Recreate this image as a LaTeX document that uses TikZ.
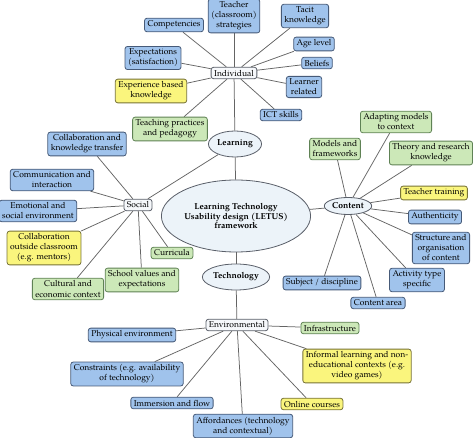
\documentclass[tikz,border=0pt]{standalone}
\usepackage{fontspec}
\setmainfont{TeX Gyre Pagella}
\usetikzlibrary{shapes.geometric,backgrounds}
\definecolor{bfill}{RGB}{160,195,236}
\definecolor{bdraw}{RGB}{70,90,120}
\definecolor{gfill}{RGB}{204,232,184}
\definecolor{gdraw}{RGB}{95,130,85}
\definecolor{yfill}{RGB}{250,245,125}
\definecolor{ydraw}{RGB}{120,115,55}
\definecolor{wfill}{RGB}{246,248,251}
\definecolor{wdraw}{RGB}{90,95,105}
\definecolor{efill}{RGB}{236,243,249}
\definecolor{edgecol}{RGB}{100,100,100}
\tikzset{
  leaf/.style={rounded corners=2.5pt, line width=0.8pt, align=center, inner xsep=3pt, inner ysep=2.6pt, font=\fontsize{8.5}{10}\selectfont},
  bleaf/.style={leaf, fill=bfill, draw=bdraw},
  gleaf/.style={leaf, fill=gfill, draw=gdraw},
  yleaf/.style={leaf, fill=yfill, draw=ydraw},
  hub/.style={leaf, fill=wfill, draw=wdraw},
  oval/.style={ellipse, fill=efill, draw=wdraw, line width=0.8pt, align=center, inner sep=1pt, font=\fontsize{8.6}{9.4}\selectfont\bfseries},
  link/.style={draw=edgecol, line width=0.75pt}
}
\begin{document}
\begin{tikzpicture}[x=1pt,y=-1pt]
\useasboundingbox (0,0) rectangle (474,438);
% hubs
\node[oval, minimum width=110pt, minimum height=72pt] (center) at (236,216) {Learning Technology\\Usability design (LETUS)\\framework};
\node[oval, minimum width=44pt, minimum height=26pt] (learning) at (235,144) {Learning};
\node[oval, minimum width=52pt, minimum height=26pt] (technology) at (236,277) {Technology};
\node[oval, minimum width=36pt, minimum height=17pt] (content) at (348,206) {Content};
\node[hub] (individual) at (234,73) {Individual};
\node[hub] (social) at (138,205) {Social};
\node[hub] (environmental) at (237,325) {Environmental};
% Individual leaves
\node[bleaf] (competencies) at (174,25) {Competencies};
\node[bleaf] (teacher) at (234,16) {Teacher\\(classroom)\\strategies};
\node[bleaf] (tacit) at (305,16) {Tacit\\knowledge};
\node[bleaf] (age) at (314,44) {Age level};
\node[bleaf] (beliefs) at (317,63) {Beliefs};
\node[bleaf] (learner) at (304,87) {Learner\\related};
\node[bleaf] (ict) at (281,115) {ICT skills};
\node[bleaf] (expect) at (153,58) {Expectations\\(satisfaction)};
\node[yleaf] (experience) at (151,91) {Experience based\\knowledge};
\node[gleaf] (teaching) at (170,129) {Teaching practices\\and pedagogy};
% Social leaves
\node[bleaf] (collab) at (87,144) {Collaboration and\\knowledge transfer};
\node[bleaf] (comm) at (52,180) {Communication and\\interaction};
\node[bleaf] (emotional) at (38,211) {Emotional and\\social environment};
\node[yleaf] (outside) at (44,248) {Collaboration\\outside classroom\\(e.g. mentors)};
\node[gleaf] (curricula) at (172,253) {Curricula};
\node[gleaf] (school) at (142,280) {School values and\\expectations};
\node[gleaf] (cultural) at (68,289) {Cultural and\\economic context};
% Content leaves
\node[gleaf] (adapting) at (396,122) {Adapting models\\to context};
\node[gleaf] (models) at (335,149) {Models and\\frameworks};
\node[gleaf] (theory) at (431,153) {Theory and research\\knowledge};
\node[yleaf] (training) at (434,193) {Teacher training};
\node[bleaf] (auth) at (435,217) {Authenticity};
\node[bleaf] (structure) at (441,248) {Structure and\\organisation\\of content};
\node[bleaf] (activity) at (417,280) {Activity type\\specific};
\node[bleaf] (subject) at (322,283) {Subject / discipline};
\node[bleaf] (area) at (378,303) {Content area};
% Environmental leaves
\node[gleaf] (infra) at (330,328) {Infrastructure};
\node[yleaf] (informal) at (357,366) {Informal learning and non-\\educational contexts (e.g.\\video games)};
\node[yleaf] (online) at (312,404) {Online courses};
\node[bleaf] (afford) at (243,426) {Affordances (technology\\and contextual)};
\node[bleaf] (immersion) at (172,403) {Immersion and flow};
\node[bleaf] (constraints) at (127,374) {Constraints (e.g. availability\\of technology)};
\node[bleaf] (physical) at (132,335) {Physical environment};
% connectors
\begin{scope}[on background layer]
\foreach \t in {competencies,teacher,tacit,age,beliefs,learner,ict,expect,experience,teaching,learning}
  \draw[link] (individual) -- (\t);
\draw[link] (learning) -- (center);
\draw[link] (learning) -- (social);
\foreach \t in {collab,comm,emotional,outside,curricula,school,cultural}
  \draw[link] (social) -- (\t);
\draw[link] (center) -- (content);
\draw[link] (center) -- (technology);
\foreach \t in {adapting,models,theory,training,auth,structure,activity,subject,area}
  \draw[link] (content) -- (\t);
\draw[link] (technology) -- (environmental);
\foreach \t in {infra,informal,online,afford,immersion,constraints,physical}
  \draw[link] (environmental) -- (\t);
\end{scope}
\end{tikzpicture}
\end{document}
